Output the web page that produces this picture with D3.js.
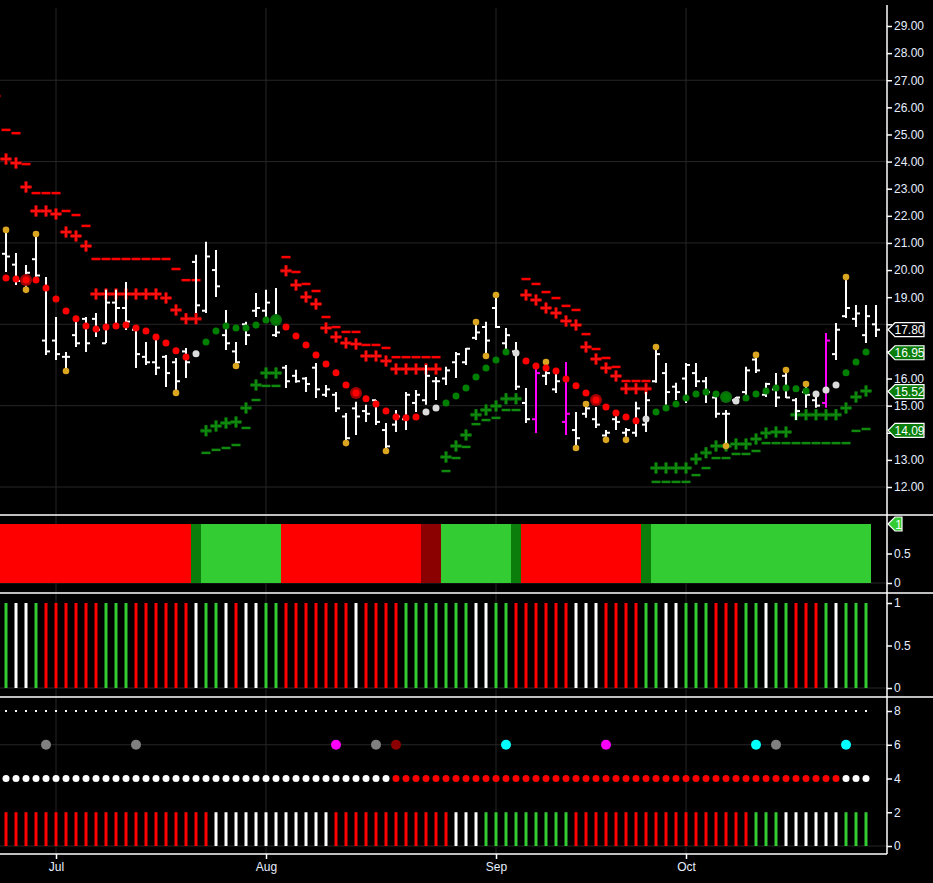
<!DOCTYPE html>
<html><head><meta charset="utf-8">
<script src="https://cdn.jsdelivr.net/npm/d3@7"></script>
<style>html,body{margin:0;padding:0;background:#000;}svg{display:block;}</style>
</head><body>
<svg id="c" width="933" height="883"></svg>
<script>
// ---------- DATA ----------
const months = [{label:"Jul",i:5},{label:"Aug",i:26},{label:"Sep",i:49},{label:"Oct",i:68}];
const priceTicks = [12,13,14,15,16,17,18,19,20,21,22,23,24,25,26,27,28,29];
const hiddenTickLabels = [14,17,18]; // covered by the value tags
const priceGrid = [12,15,18,21,24,27];
const highs = [21.37,20.63,20.19,21.22,19.74,18.27,16.98,18.23,18.27,18.42,
19.27,19.27,19.56,17.86,17.35,17.61,16.87,16.76,17.13,20.56,
21.04,20.74,18.53,17.35,18.09,19.15,19.27,19.34,16.50,16.32,
16.06,16.57,15.76,15.50,14.73,15.14,15.03,15.21,14.36,14.84,
15.50,15.58,16.50,16.06,16.43,16.98,17.13,17.97,18.09,18.97,
17.86,17.35,15.65,16.39,16.50,16.24,16.61,14.77,14.95,14.95,
14.10,14.66,14.18,15.14,15.50,17.05,16.57,15.84,16.57,16.57,
16.06,15.32,14.84,15.32,16.43,16.76,15.84,16.20,16.20,15.28,
15.69,15.39,17.68,18.05,19.63,18.71,18.71,18.71];
const lows = [19.93,19.45,19.38,19.71,16.87,16.68,16.39,17.16,16.98,17.53,
17.31,18.05,17.79,16.39,16.50,16.13,15.69,15.58,16.02,18.42,
18.42,19.01,17.05,16.57,17.24,18.27,18.27,17.53,15.65,15.84,
15.50,15.28,15.32,14.77,13.73,13.92,14.40,14.29,13.44,14.03,
14.10,14.77,15.03,15.21,15.76,16.02,16.50,17.42,16.94,17.86,
17.05,15.58,14.36,13.99,15.76,15.47,13.92,13.55,14.55,14.18,
13.85,14.10,13.85,13.85,14.03,15.84,15.03,15.21,15.10,15.69,
15.10,14.55,13.62,15.14,15.32,16.20,15.32,14.95,15.28,14.47,
14.92,14.92,14.92,16.68,18.23,17.90,17.31,17.53];
const opens = [20.6,20.2,19.6,20.4,17.4,17.4,16.8,17.6,18.2,18.2,
17.3,18.8,18.6,17.8,16.8,16.6,16.8,16.6,17.0,20.3,
18.5,20.0,17.6,17.0,18.0,18.5,18.5,17.6,16.4,16.1,
16.0,16.4,15.4,15.4,14.6,14.9,14.8,15.2,14.1,14.3,
14.5,15.1,15.2,15.9,16.0,16.6,16.6,17.5,17.9,18.6,
17.3,17.0,15.1,14.5,16.1,15.6,14.4,14.1,14.7,14.5,
13.9,14.5,14.0,14.0,14.3,15.9,16.2,15.7,16.0,16.2,
15.9,15.3,14.7,15.2,15.5,16.7,15.4,15.6,16.1,15.2,
15.5,15.2,15.1,16.9,18.3,18.2,17.6,18.0];
const closes = [20.5,19.6,19.9,19.8,17.0,16.9,16.8,17.3,17.3,17.8,
18.8,18.6,18.1,16.9,16.6,16.4,16.2,15.9,16.6,18.7,
20.5,19.4,17.3,16.6,17.6,18.6,18.8,17.7,15.9,15.9,
15.8,15.6,15.6,14.9,13.8,14.6,14.7,14.4,13.5,14.6,
15.4,15.4,16.1,15.9,16.3,16.9,17.1,17.7,17.4,17.9,
17.6,15.7,14.5,16.2,16.2,15.9,14.7,13.8,14.9,14.3,
14.0,14.4,14.1,14.9,15.2,16.9,15.5,15.5,16.5,15.9,
15.5,14.7,14.7,15.3,16.3,16.3,15.8,15.3,15.3,14.8,
15.4,15.0,17.4,17.8,18.6,18.4,18.3,17.80];
const magentaBars = [53,56,82];
const goldHigh = [0,3,47,49,54,58,65,75,78,80,84];
const goldLow = [2,6,17,23,34,38,48,57,60,62,72];
const trail = [19.71,19.67,19.63,19.63,19.34,18.93,18.49,18.20,17.94,17.83,
17.90,17.94,17.97,17.86,17.75,17.53,17.31,17.02,16.79,16.91,
17.35,17.75,17.94,17.86,17.86,17.97,18.16,18.16,17.90,17.57,
17.24,16.87,16.54,16.21,15.76,15.47,15.25,15.06,14.80,14.58,
14.55,14.58,14.77,14.91,15.10,15.36,15.65,16.06,16.39,16.68,
16.98,16.94,16.65,16.46,16.39,16.28,15.98,15.73,15.47,15.21,
14.95,14.73,14.58,14.44,14.51,14.77,14.91,15.06,15.28,15.43,
15.50,15.43,15.32,15.17,15.28,15.43,15.54,15.65,15.65,15.62,
15.54,15.43,15.58,15.76,16.21,16.61,16.98];
const trailState = ["rr","R","rrrrrrrrrrrrrrrr","w","ggggggg","G","rrrrrrr","R","rrrrrr","ww","ggggggg","w","rrrrrrr","R","rrrr","w","ggggggg","G","w","ggggggg","www","ggg"].join("");
const redCrossIdx = [0,1,2,3,4,5,6,7,8,9,10,11,12,13,14,15,16,17,18,19,28,29,30,31,32,33,34,35,36,37,38,39,40,41,42,43,52,53,54,55,56,57,58,59,60,61,62,63,64];
const redCrossVal = [24.10,23.95,23.06,22.18,22.18,22.07,21.40,21.26,20.89,19.12,19.12,19.12,19.12,19.12,19.12,19.12,18.97,18.53,18.20,18.20,
19.97,19.45,19.01,18.75,17.86,17.53,17.31,17.27,16.83,16.83,16.65,16.35,16.35,16.35,16.35,16.35,
19.08,18.90,18.60,18.42,18.12,17.97,17.16,16.72,16.39,16.09,15.62,15.62,15.62];
const redDashIdx = [-1,0,1,2,3,4,5,6,7,8,9,10,11,12,13,14,15,16,17,18,19,28,29,30,31,32,33,34,35,36,37,38,39,40,41,42,43,52,53,54,55,56,57,58,59,60,61,62,63,64];
const redDashVal = [26.42,25.17,25.05,23.91,22.84,22.84,22.84,22.18,22.03,21.63,20.41,20.41,20.41,20.41,20.41,20.41,20.41,20.41,20.04,19.63,19.63,
20.48,19.93,19.49,19.23,18.27,17.90,17.72,17.72,17.24,17.24,17.13,16.79,16.79,16.79,16.79,16.79,
19.67,19.49,19.19,18.97,18.68,18.53,17.64,17.09,16.76,16.43,15.91,15.91,15.91];
const greenCrossIdx = [20,21,22,23,24,25,26,27,44,45,46,47,48,49,50,51,65,66,67,68,69,70,71,72,73,74,75,76,77,78,79,80,81,82,83,84,85,86];
const greenCrossVal = [14.07,14.25,14.36,14.40,14.91,15.76,16.20,16.20,13.11,13.51,13.92,14.66,14.84,14.99,15.25,15.25,
12.70,12.70,12.70,12.70,13.03,13.26,13.51,13.51,13.59,13.59,13.77,13.99,14.03,14.03,14.66,14.66,14.66,14.66,14.66,14.91,15.32,15.54];
const greenDashVal = [13.26,13.37,13.44,13.55,14.18,15.21,15.73,15.73,12.59,13.07,13.48,14.32,14.47,14.55,14.84,14.84,
12.19,12.19,12.19,12.19,12.44,12.70,13.07,13.07,13.22,13.22,13.33,13.62,13.62,13.62,13.62,13.62,13.62,13.62,13.62,13.62,14.07,14.14];
const tags = [{v:17.80,fill:"#000"},{v:16.95,fill:"#0a7d0a"},{v:15.52,fill:"#0a7d0a"},{v:14.09,fill:"#0a7d0a"}];
const bandState = ["RRRRRRRRRRRRRRRRRRR","D","GGGGGGGG","RRRRRRRRRRRRRR","KK","GGGGGGG","D","RRRRRRRRRRRR","D","GGGGGGGGGGGGGGGGGGGGGG"].join("");
const bandTicks = [0,0.5];
const ind3 = "gwwgrrrrrrgggrrrrrrwggwrwwggrrrrrrrwrrrrgggggg" + "gwwggrrrrrrwwwrrrrggwwgggrrrggwggrrrgwggg";
const ind3Ticks = [0,0.5,1];
const ind4Bars = ["rrrrrrrrrrrrrrrrrrrrr","wwwwwwwwwwww","rrrrrrrrrrrr","www","ggggggggg","rrrrrrrrrrrrrrrrrr","ggg","wwwwww","ggg"].join("");
const ind4Dots4 = ["wwwwwwwwwwwwwwwwwwwwwwwwwwwwwwwwwwwwwww","rrrrrrrrrrrrrrrrrrrrrrrrrrrrrrrrrrrrrrrrrrrrr","www"].join("");
const ind4Dots6 = [{i:4,c:"#808080"},{i:13,c:"#808080"},{i:33,c:"#ff00ff"},{i:37,c:"#808080"},{i:39,c:"#8b0000"},{i:50,c:"#00ffff"},{i:60,c:"#ff00ff"},{i:75,c:"#00ffff"},{i:77,c:"#808080"},{i:84,c:"#00ffff"}];
const ind4Ticks = [0,2,4,6,8];

// ---------- SCALES ----------
const svg = d3.select("#c");
const W = 933, AX = 887;
const x = d3.scaleLinear().domain([0,86]).range([6,866]);
const yP = d3.scaleLinear().domain([12,29]).range([487,26]);
const yB = d3.scaleLinear().domain([0,1]).range([583,524]);
const y3 = d3.scaleLinear().domain([0,1]).range([688,603]);
const y4 = d3.scaleLinear().domain([0,8]).range([846,711]);
const col = {r:"#ff0000",g:"#33cc33",w:"#ffffff"};
const font = "Liberation Sans, Arial, sans-serif";
const tickCol = "#e6eeff";
const gridCol = "#262626";

svg.append("rect").attr("width",W).attr("height",883).attr("fill","#000");
const grid = svg.append("g");
months.forEach(m=>{
  grid.append("line").attr("x1",x(m.i)).attr("x2",x(m.i)).attr("y1",8).attr("y2",854).attr("stroke",gridCol);
});
priceGrid.forEach(v=>grid.append("line").attr("x1",0).attr("x2",AX).attr("y1",yP(v)).attr("y2",yP(v)).attr("stroke",gridCol));
[[yB,0],[y3,0],[y4,0],[y4,6]].forEach(([s,v])=>grid.append("line").attr("x1",0).attr("x2",AX).attr("y1",s(v)).attr("y2",s(v)).attr("stroke",gridCol));

// ---------- PRICE PANEL ----------
const pg = svg.append("g");
redDashIdx.forEach((d,k)=>pg.append("rect").attr("x",x(d)-4.5).attr("y",yP(redDashVal[k])-1.2).attr("width",9).attr("height",2.5).attr("fill","#ff0000"));
greenCrossIdx.forEach((d,k)=>pg.append("rect").attr("x",x(d)-4.5).attr("y",yP(greenDashVal[k])-1.2).attr("width",9).attr("height",2.5).attr("fill","#0f8a0f"));
function cross(g,cx,cy,c,o){
  g.append("path").attr("d",`M${cx-5.5},${cy}H${cx+5.5}M${cx},${cy-5.5}V${cy+5.5}`).attr("stroke",o).attr("stroke-width",4);
  g.append("path").attr("d",`M${cx-5.5},${cy}H${cx+5.5}M${cx},${cy-5.5}V${cy+5.5}`).attr("stroke",c).attr("stroke-width",2);
}
redCrossIdx.forEach((d,k)=>cross(pg,x(d),yP(redCrossVal[k]),"#ff1010","#8b0000"));
greenCrossIdx.forEach((d,k)=>cross(pg,x(d),yP(greenCrossVal[k]),"#0f8a0f","#064d06"));
highs.forEach((h,i)=>{
  const c = magentaBars.includes(i)?"#ff00ff":"#ffffff";
  const cx = x(i);
  pg.append("line").attr("x1",cx).attr("x2",cx).attr("y1",yP(h)).attr("y2",yP(lows[i])).attr("stroke",c).attr("stroke-width",2);
  pg.append("line").attr("x1",cx-4).attr("x2",cx).attr("y1",yP(opens[i])).attr("y2",yP(opens[i])).attr("stroke",c).attr("stroke-width",2);
  pg.append("line").attr("x1",cx).attr("x2",cx+4).attr("y1",yP(closes[i])).attr("y2",yP(closes[i])).attr("stroke",c).attr("stroke-width",2);
});
goldHigh.forEach(i=>pg.append("circle").attr("cx",x(i)).attr("cy",yP(highs[i])-3).attr("r",3.3).attr("fill","#daa520"));
goldLow.forEach(i=>pg.append("circle").attr("cx",x(i)).attr("cy",yP(lows[i])+3).attr("r",3.3).attr("fill","#daa520"));
trail.forEach((v,i)=>{
  const s = trailState[i], cx=x(i), cy=yP(v);
  if(s==="R"){ pg.append("circle").attr("cx",cx).attr("cy",cy).attr("r",6).attr("fill","#a00000"); pg.append("circle").attr("cx",cx).attr("cy",cy).attr("r",3.5).attr("fill","#ff0000"); }
  else if(s==="G"){ pg.append("circle").attr("cx",cx).attr("cy",cy).attr("r",6).attr("fill","#0a6e0a"); pg.append("circle").attr("cx",cx).attr("cy",cy).attr("r",3.5).attr("fill","#008000"); }
  else pg.append("circle").attr("cx",cx).attr("cy",cy).attr("r",3.5).attr("fill",s==="r"?"#ff0000":s==="g"?"#008000":"#dcdcdc");
});

// ---------- LOWER PANELS ----------
const bc = {R:"#ff0000",D:"#0a7d0a",G:"#33cc33",K:"#8b0000"};
bandState.split("").forEach((s,i)=>{
  const x0 = i===0?0:x(i)-5;
  svg.append("rect").attr("x",x0).attr("y",yB(1)).attr("width",x(i)+5-x0).attr("height",yB(0)-yB(1)).attr("fill",bc[s]);
});
ind3.split("").forEach((s,i)=>svg.append("rect").attr("x",x(i)-1.5).attr("y",y3(1)).attr("width",3).attr("height",y3(0)-y3(1)).attr("fill",col[s]));
ind4Bars.split("").forEach((s,i)=>svg.append("rect").attr("x",x(i)-1.5).attr("y",y4(2)).attr("width",3).attr("height",y4(0)-y4(2)).attr("fill",col[s]));
ind4Dots4.split("").forEach((s,i)=>svg.append("circle").attr("cx",x(i)).attr("cy",y4(4)).attr("r",3.5).attr("fill",col[s]));
d3.range(87).forEach(i=>svg.append("rect").attr("x",x(i)-1).attr("y",y4(8)-1).attr("width",2).attr("height",2).attr("fill","#fff"));
ind4Dots6.forEach(d=>svg.append("circle").attr("cx",x(d.i)).attr("cy",y4(6)).attr("r",5).attr("fill",d.c));

// ---------- FRAMES & AXES ----------
const fr = svg.append("g").attr("stroke","#fff").attr("stroke-width",1.5);
[515,593,697].forEach(y=>fr.append("line").attr("x1",0).attr("x2",W).attr("y1",y).attr("y2",y));
fr.append("line").attr("x1",0).attr("x2",AX).attr("y1",854).attr("y2",854);
fr.append("line").attr("x1",AX).attr("x2",AX).attr("y1",5).attr("y2",854);

function rAxis(scale,ticks,fmt){
  const g = svg.append("g").attr("transform",`translate(${AX},0)`)
    .call(d3.axisRight(scale).tickValues(ticks).tickFormat(fmt).tickSize(5).tickPadding(2));
  g.select(".domain").remove();
  g.selectAll("line").attr("stroke","#fff").attr("stroke-width",1.5);
  g.selectAll("text").attr("fill",tickCol).attr("font-family",font).attr("font-size",12);
}
rAxis(yP,priceTicks,v=>hiddenTickLabels.includes(v)?"":d3.format(".2f")(v));
rAxis(yB,bandTicks,d3.format(""));
rAxis(y3,ind3Ticks,d3.format(""));
rAxis(y4,ind4Ticks,d3.format(""));

function tag(yv,fill,txt,w){
  const g = svg.append("g").attr("transform",`translate(${AX+1},${yv})`);
  g.append("path").attr("d",`M0,0L7,-7L${w},-7L${w},7L7,7Z`).attr("fill",fill).attr("stroke","#fff").attr("stroke-width",1.2);
  g.append("text").attr("x",(w+7)/2).attr("y",4.5).attr("text-anchor","middle").attr("fill","#fff").attr("font-family",font).attr("font-size",12).text(txt);
}
tags.forEach(t=>tag(yP(t.v),t.fill,d3.format(".2f")(t.v),36));
tag(yB(1),"#33cc33","1",14);

const xa = svg.append("g").attr("transform","translate(0,854)")
  .call(d3.axisBottom(x).tickValues(months.map(m=>m.i)).tickFormat((d,k)=>months[k].label).tickSize(5).tickPadding(3));
xa.select(".domain").remove();
xa.selectAll("line").attr("stroke","#fff").attr("stroke-width",1.5);
xa.selectAll("text").attr("fill",tickCol).attr("font-family",font).attr("font-size",12);
</script>
</body></html>
